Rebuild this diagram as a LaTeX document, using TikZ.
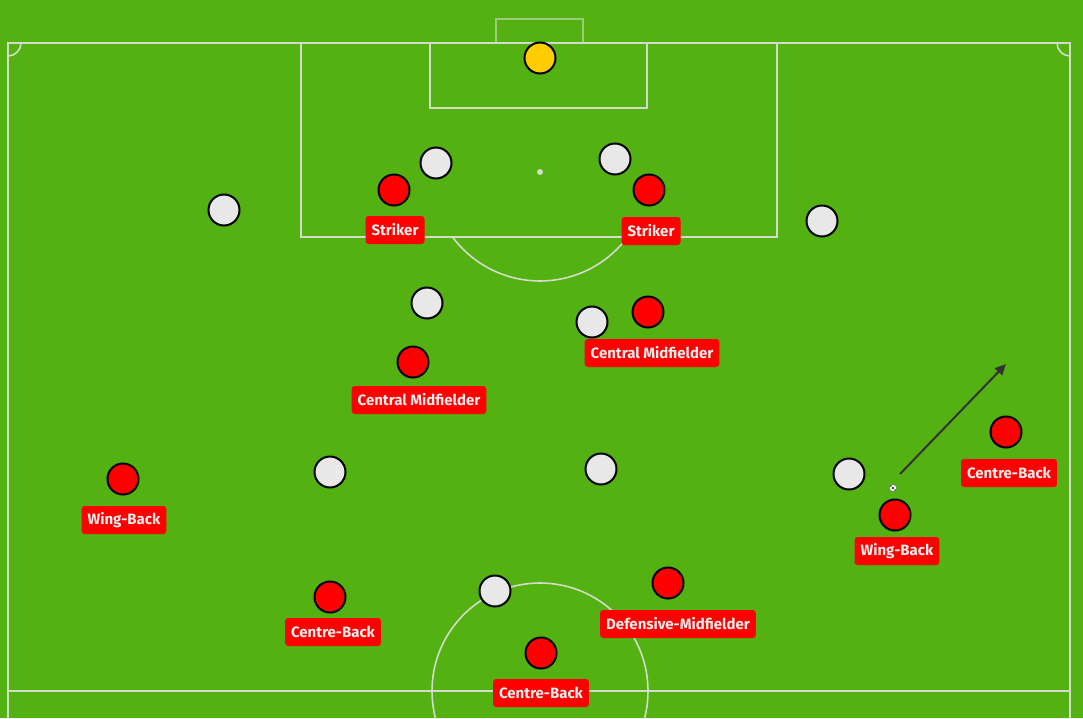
\documentclass[tikz,border=0pt]{standalone}
\usepackage{fontspec}
\setmainfont{Fira Sans}
\usetikzlibrary{arrows.meta}
\definecolor{pitch}{HTML}{53B111}
\definecolor{lineclr}{HTML}{D2DCC8}
\definecolor{redp}{HTML}{FF0000}
\definecolor{whitep}{HTML}{E8E8E8}
\definecolor{goalie}{HTML}{FFCC00}
\definecolor{labeltext}{HTML}{EEEEEE}
\definecolor{arrowclr}{HTML}{333333}
\tikzset{
  fieldline/.style={draw=lineclr, line width=1.6pt},
  player/.style={circle, draw=black, line width=2pt, minimum size=31pt, inner sep=0pt},
  redplayer/.style={player, fill=redp},
  whiteplayer/.style={player, fill=whitep},
  keeper/.style={player, fill=goalie},
  tag/.style={rectangle, rounded corners=3pt, fill=redp, text=labeltext, font=\bfseries\fontsize{15}{16}\selectfont, inner xsep=6pt, minimum height=28pt, inner ysep=0pt},
  movearrow/.style={draw=arrowclr, line width=2pt, -{Triangle[length=11pt,width=10pt]}}
}
\begin{document}
\begin{tikzpicture}[x=1pt,y=-1pt]
\fill[pitch] (0,0) rectangle (1083,718);
\useasboundingbox (0,0) rectangle (1083,718);
% pitch lines
\draw[fieldline] (8,718) -- (8,43) -- (1070,43) -- (1070,718);
\draw[fieldline] (8,691) -- (1070,691);
\draw[fieldline] (301,43) -- (301,237) -- (777,237) -- (777,43);
\draw[fieldline] (430,43) -- (430,108) -- (647,108) -- (647,43);
\draw[draw=lineclr, draw opacity=0.6, line width=1.4pt] (496,43) -- (496,19) -- (583,19) -- (583,43);
\fill[lineclr] (540,172) circle (3pt);
\begin{scope}
\clip (0,237) rectangle (1083,300);
\draw[fieldline] (540,172) circle (109pt);
\end{scope}
\draw[fieldline] (540,691) circle (108pt);
\begin{scope}
\clip (8,43) rectangle (40,70);
\draw[fieldline] (8,43) circle (13pt);
\end{scope}
\begin{scope}
\clip (1040,43) rectangle (1070,70);
\draw[fieldline] (1070,43) circle (13pt);
\end{scope}
% goalkeeper
\node[keeper] (gk) at (540,58) {};
% white players
\node[whiteplayer] (w1) at (436,163) {};
\node[whiteplayer] (w2) at (615,159) {};
\node[whiteplayer] (w3) at (224,210) {};
\node[whiteplayer] (w4) at (822,221) {};
\node[whiteplayer] (w5) at (427,303) {};
\node[whiteplayer] (w6) at (592,322) {};
\node[whiteplayer] (w7) at (330,472) {};
\node[whiteplayer] (w8) at (601,469) {};
\node[whiteplayer] (w9) at (849,474) {};
\node[whiteplayer] (w10) at (495,591) {};
% red players
\node[redplayer] (r1) at (394,190) {};
\node[tag] (t1) at (395,230) {Striker};
\node[redplayer] (r2) at (649,190) {};
\node[tag] (t2) at (651,231) {Striker};
\node[redplayer] (r3) at (648,312) {};
\node[tag] (t3) at (652,353) {Central Midfielder};
\node[redplayer] (r4) at (413,362) {};
\node[tag] (t4) at (419,400) {Central Midfielder};
\node[redplayer] (r5) at (123,479) {};
\node[tag] (t5) at (124,520) {Wing-Back};
\node[redplayer] (r6) at (1006,432) {};
\node[tag] (t6) at (1009,473) {Centre-Back};
\node[redplayer] (r7) at (895,515) {};
\node[tag] (t7) at (897,551) {Wing-Back};
\node[redplayer] (r8) at (330,597) {};
\node[tag] (t8) at (333,632) {Centre-Back};
\node[redplayer] (r9) at (668,583) {};
\node[tag] (t9) at (678,624) {Defensive-Midfielder};
\node[redplayer] (r10) at (541,653) {};
\node[tag] (t10) at (541,693) {Centre-Back};
% ball
\node[circle, fill=white, draw=black!60, line width=0.4pt, minimum size=7pt, inner sep=0pt] (ball) at (893,488) {};
\fill[black!80] (ball.center) circle (1.3pt);
\fill[black!70] (891,486) circle (0.8pt);
\fill[black!70] (895,490) circle (0.8pt);
% movement arrow
\coordinate (arrowstart) at (900,474);
\coordinate (arrowend) at (1006,364);
\draw[movearrow] (arrowstart) -- (arrowend);
\end{tikzpicture}
\end{document}
